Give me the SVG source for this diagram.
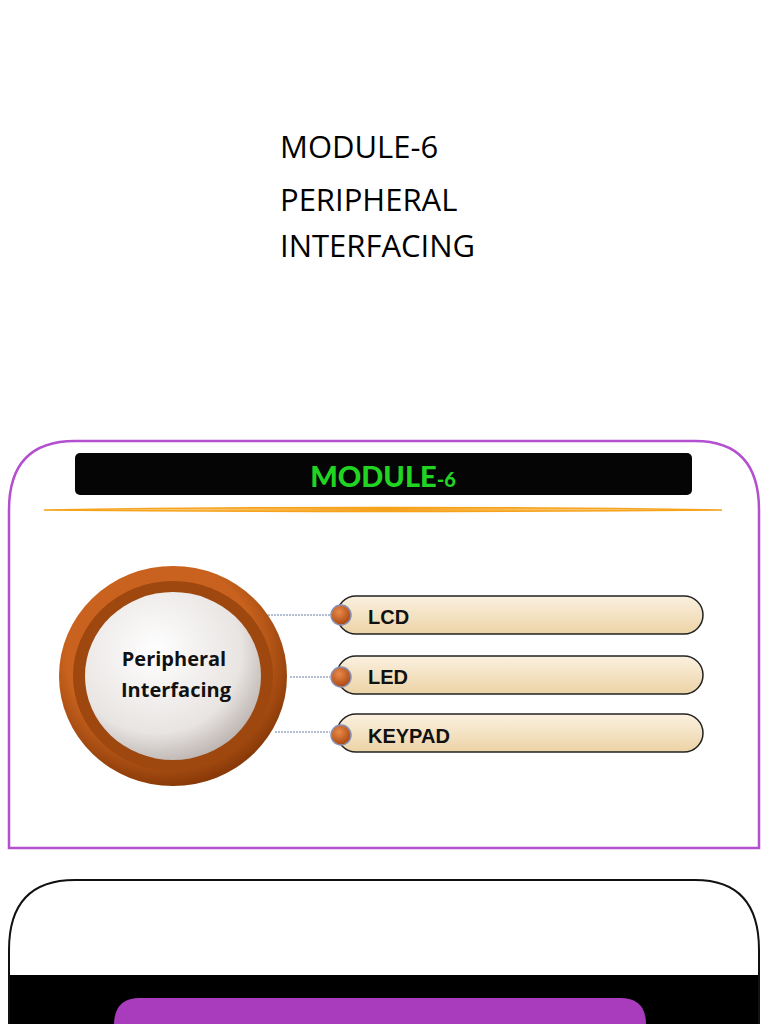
<svg xmlns="http://www.w3.org/2000/svg" width="768" height="1024" viewBox="0 0 768 1024">
<defs>
<style>
.t{font-family:"Open Sans","Liberation Sans",sans-serif;font-size:31px;fill:#000}
.lb{font-family:"Liberation Sans Narrow","Liberation Sans",sans-serif;font-weight:bold;font-size:20px;fill:#111}
.pill{fill:url(#pg);stroke:#222;stroke-width:1.5}
.dot{fill:url(#dg);stroke:#8a8fb0;stroke-width:1.5}
.con{stroke:#6a7fa8;stroke-width:1;stroke-dasharray:2 1;fill:none}
</style>
<linearGradient id="pg" x1="0" y1="0" x2="0" y2="1"><stop offset="0" stop-color="#fbf1e0"/><stop offset="1" stop-color="#ecd3a6"/></linearGradient>
<radialGradient id="dg" cx="0.4" cy="0.35" r="0.7"><stop offset="0" stop-color="#e88a4a"/><stop offset="1" stop-color="#a8440e"/></radialGradient>
<radialGradient id="ring" cx="0.45" cy="0.4" r="0.6"><stop offset="0.7" stop-color="#c8621e"/><stop offset="1" stop-color="#8a3a08"/></radialGradient>
<radialGradient id="ball" cx="0.4" cy="0.35" r="0.7"><stop offset="0" stop-color="#ffffff"/><stop offset="0.7" stop-color="#e8e4e2"/><stop offset="1" stop-color="#b8b0ac"/></radialGradient>
<linearGradient id="og" x1="0" y1="0" x2="1" y2="0"><stop offset="0" stop-color="#f6a21a" stop-opacity="0.3"/><stop offset="0.5" stop-color="#f6a21a"/><stop offset="1" stop-color="#f6a21a" stop-opacity="0.3"/></linearGradient>
</defs>
<rect width="768" height="1024" fill="#fff"/>
<g id="title">
<text class="t" x="280" y="158">MODULE-6</text>
<text class="t" x="280" y="211">PERIPHERAL</text>
<text class="t" x="280" y="257">INTERFACING</text>
</g>
<g id="panel">
<path d="M9,848 V510 Q9,441 75,441 H695 Q759,441 759,510 V848 Z" fill="#fff" stroke="#b44fd0" stroke-width="2.5"/>
<rect x="75" y="453" width="617" height="42" rx="5" fill="#050505"/>
<text x="383" y="487" text-anchor="middle" font-family="Lato,'Liberation Sans',sans-serif" font-weight="900" font-size="29" fill="#22d422">MODULE<tspan font-size="20">-6</tspan></text>
<path d="M44,510 Q383,505 722,510 Q383,513 44,510 Z" fill="url(#og)" stroke="#f6a21a" stroke-width="1.5"/>
</g>
<g id="connectors">
<line class="con" x1="268" y1="615" x2="330" y2="615"/>
<line class="con" x1="290" y1="677" x2="330" y2="677"/>
<line class="con" x1="275" y1="732" x2="330" y2="732"/>
</g>
<g id="hub">
<ellipse cx="173" cy="676" rx="114" ry="110" fill="url(#ring)"/>
<ellipse cx="173" cy="676" rx="100" ry="95" fill="#9e480f"/>
<ellipse cx="173" cy="676" rx="88" ry="84" fill="url(#ball)"/>
<text x="174" y="666" text-anchor="middle" font-family="'Open Sans','Liberation Sans',sans-serif" font-weight="bold" font-size="20" fill="#111">Peripheral</text>
<text x="176" y="697" text-anchor="middle" font-family="'Open Sans','Liberation Sans',sans-serif" font-weight="bold" font-size="20" fill="#111">Interfacing</text>
</g>
<g id="lcd"><rect class="pill" x="337" y="596" width="366" height="38" rx="19"/><circle class="dot" cx="341" cy="615" r="10"/><text class="lb" x="368" y="624">LCD</text></g>
<g id="led"><rect class="pill" x="337" y="656" width="366" height="38" rx="19"/><circle class="dot" cx="341" cy="677" r="10"/><text class="lb" x="368" y="684">LED</text></g>
<g id="keypad"><rect class="pill" x="337" y="714" width="366" height="38" rx="19"/><circle class="dot" cx="341" cy="735" r="10"/><text class="lb" x="368" y="743">KEYPAD</text></g>
<g id="panel2">
<path d="M9,1024 V950 Q9,880 75,880 H695 Q759,880 759,950 V1024" fill="#fff" stroke="#111" stroke-width="2"/>
<rect x="10" y="975" width="748" height="49" fill="#000"/>
<path d="M114,1024 V1025 Q114,998 140,998 H620 Q646,998 646,1024 Z" fill="#a83cbc"/>
</g>
</svg>
